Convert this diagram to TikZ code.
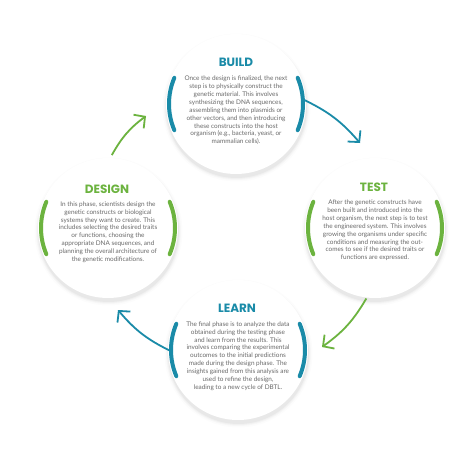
\documentclass[tikz,border=0pt]{standalone}
\usepackage{fontspec}
\setmainfont{Lato}
\newfontfamily\titlefont{Poppins}
\usetikzlibrary{arrows.meta,calc}
\definecolor{tealc}{HTML}{1A8BA8}
\definecolor{greenc}{HTML}{6CB33F}
\definecolor{txtc}{HTML}{6A6A6A}
\begin{document}
\begin{tikzpicture}[x=1pt,y=1pt,
  phase/.style={circle,minimum size=140pt,inner sep=0pt,fill=white},
  ttl/.style={font=\titlefont\bfseries\fontsize{12}{12}\selectfont,inner sep=0pt},
  body/.style={align=center,text=txtc,font=\fontsize{6.4}{7.85}\selectfont,inner sep=0pt},
  brk/.style={line width=4pt,line cap=round},
  arr/.style={line width=1.8pt,-{Straight Barb[length=8pt,width=17pt]}},
]
\useasboundingbox (0,0) rectangle (474,-466);
\fill[white] (0,0) rectangle (474,-466);
% soft shadows
\foreach \cx/\cy in {236/-104, 375/-228, 108/-228, 238/-350} {
  \foreach \r/\o in {74/0.012,72.5/0.018,71.5/0.025,70.5/0.035} {
    \fill[black,opacity=\o] (\cx+0.5,\cy-3.5) circle (\r);
  }
}
% circles
\node[phase] (b) at (236,-104) {};
\node[phase] (t) at (375,-228) {};
\node[phase] (d) at (108,-228) {};
\node[phase] (l) at (238,-350) {};
% brackets
\draw[brk,tealc] ($(b)+(157:67)$) arc (157:203:67);
\draw[brk,tealc] ($(b)+(-23:67)$) arc (-23:23:67);
\draw[brk,greenc] ($(t)+(157:67)$) arc (157:203:67);
\draw[brk,greenc] ($(t)+(-23:67)$) arc (-23:23:67);
\draw[brk,greenc] ($(d)+(157:67)$) arc (157:203:67);
\draw[brk,greenc] ($(d)+(-23:67)$) arc (-23:23:67);
\draw[brk,tealc] ($(l)+(157:67)$) arc (157:203:67);
\draw[brk,tealc] ($(l)+(-23:67)$) arc (-23:23:67);
% titles
\node[ttl,text=tealc] (bt) at (236,-62) {BUILD};
\node[ttl,text=greenc] (tt) at (374,-187) {TEST};
\node[ttl,text=greenc] (dt) at (107,-189) {DESIGN};
\node[ttl,text=tealc] (lt) at (237,-308) {LEARN};
% bodies
\node[body] (bb) at (236,-110.5) {Once the design is finalized, the next\\step is to physically construct the\\genetic material. This involves\\synthesizing the DNA sequences,\\assembling them into plasmids or\\other vectors, and then introducing\\these constructs into the host\\organism (e.g., bacteria, yeast, or\\mammalian cells).};
\node[body] (tb) at (375,-230.5) {After the genetic constructs have\\been built and introduced into the\\host organism, the next step is to test\\the engineered system. This involves\\growing the organisms under specific\\conditions and measuring the out-\\comes to see if the desired traits or\\functions are expressed.};
\node[body] (db) at (108,-232) {In this phase, scientists design the\\genetic constructs or biological\\systems they want to create. This\\includes selecting the desired traits\\or functions, choosing the\\appropriate DNA sequences, and\\planning the overall architecture of\\the genetic modifications.};
\node[body] (lb) at (238,-356) {The final phase is to analyze the data\\obtained during the testing phase\\and learn from the results. This\\involves comparing the experimental\\outcomes to the initial predictions\\made during the design phase. The\\insights gained from this analysis are\\used to refine the design,\\leading to a new cycle of DBTL.};
% arrows
\coordinate (a1s) at ($(d)+(87:73)$);
\coordinate (a1e) at (146,-116);
\coordinate (a2s) at ($(b)+(4:67)$);
\coordinate (a2e) at (360,-143);
\coordinate (a3s) at ($(t)+(-97:71)$);
\coordinate (a3e) at (322,-347);
\coordinate (a4s) at ($(l)+(181:67)$);
\coordinate (a4e) at (118,-310);
\draw[arr,greenc] (a1s) to[bend left=12] (a1e);
\draw[arr,tealc] (a2s) to[bend left=12] (a2e);
\draw[arr,greenc] (a3s) to[bend left=12] (a3e);
\draw[arr,tealc] (a4s) to[bend left=12] (a4e);
\end{tikzpicture}
\end{document}
